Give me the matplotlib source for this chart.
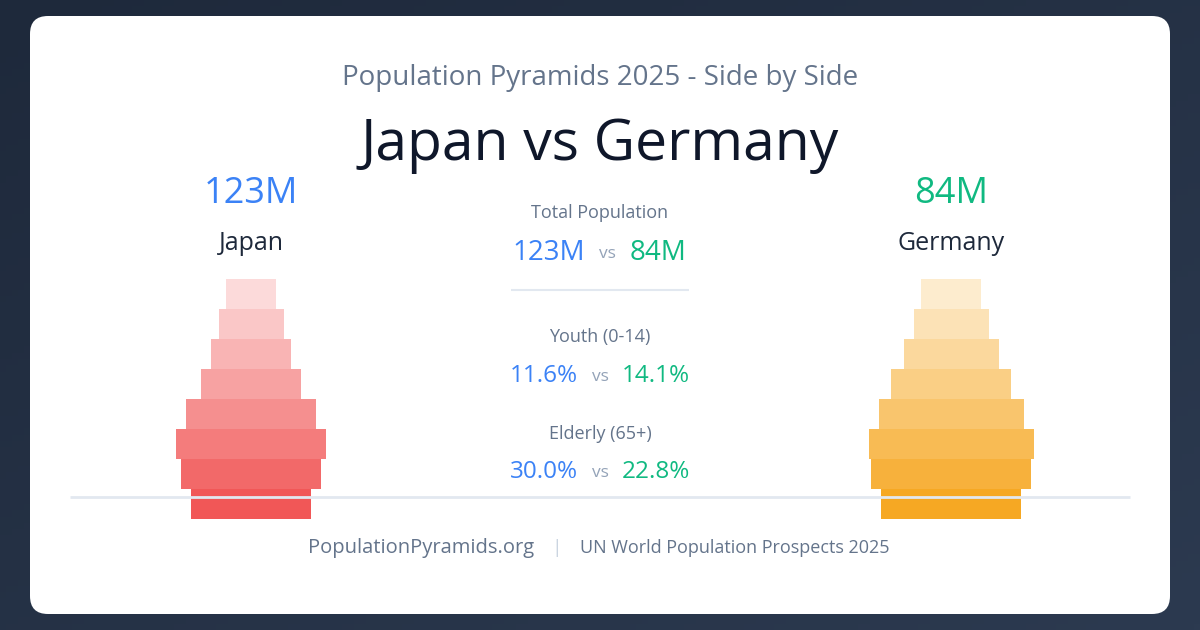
import numpy as np
import matplotlib
matplotlib.use("Agg")
import matplotlib.pyplot as plt
from matplotlib.patches import FancyBboxPatch
from matplotlib.colors import to_rgb

# ---- data -------------------------------------------------------------
age_groups = ["0-9", "10-19", "20-29", "30-39", "40-49", "50-59", "60-69", "70+"]
japan_widths = [120, 140, 150, 130, 100, 80, 65, 50]      # bottom -> top
germany_widths = [140, 160, 165, 145, 120, 95, 75, 60]

countries = ["Japan", "Germany"]
total_pop = ["123M", "84M"]
youth_share = ["11.6%", "14.1%"]
elderly_share = ["30.0%", "22.8%"]

title_top = "Population Pyramids 2025 - Side by Side"
title_main = "Japan vs Germany"
footer_left = "PopulationPyramids.org"
footer_right = "UN World Population Prospects 2025"

BLUE = "#3b82f6"
GREEN = "#10b981"
SLATE = "#64748b"
DARK = "#0f172a"
LINE = "#e2e8f0"
JAPAN_BASE = "#ef4444"
GERMANY_BASE = "#f59e0b"

plt.rcParams["font.family"] = ["Open Sans", "DejaVu Sans"]

W, H = 1200, 630
fig = plt.figure(figsize=(W / 100, H / 100), dpi=100)


def blend(color, alpha):
    c = np.array(to_rgb(color))
    return tuple(1 - alpha * (1 - c))


# background gradient + card
bg = fig.add_axes([0, 0, 1, 1], zorder=0)
bg.set_xlim(0, W)
bg.set_ylim(H, 0)
bg.axis("off")
gx = np.linspace(0, 1, 200)
grad = np.add.outer(np.linspace(0, 0.5, 100), gx * 0.5)
c1, c2 = np.array(to_rgb("#1e293b")), np.array(to_rgb("#2c3a50"))
img = c1[None, None, :] + grad[:, :, None] * (c2 - c1)[None, None, :]
bg.imshow(img, extent=[0, W, H, 0], aspect="auto")
card = FancyBboxPatch((30 + 18, 16 + 18), 1140 - 36, 598 - 36,
                      boxstyle="round,pad=18", fc="white", ec="none")
bg.add_patch(card)


def pyramid(center_px, widths, base):
    left = (center_px - 100) / W
    bottom = 1 - 519 / H
    ax = fig.add_axes([left, bottom, 200 / W, 240 / H], zorder=1)
    ax.set_xlim(-100, 100)
    ax.set_ylim(-0.5, len(widths) - 0.5)
    ax.axis("off")
    n = len(widths)
    y = np.arange(n)
    alphas = [0.9 - 0.1 * i for i in range(n)]
    colors = [blend(base, a) for a in alphas]
    w = np.array(widths)
    ax.barh(y, w, left=-w / 2, height=1.0, color=colors, linewidth=0)
    return ax


pyramid(251, japan_widths, JAPAN_BASE)
pyramid(951, germany_widths, GERMANY_BASE)

# overlay for text and rules
ov = fig.add_axes([0, 0, 1, 1], zorder=3)
ov.set_xlim(0, W)
ov.set_ylim(H, 0)
ov.axis("off")
ov.patch.set_alpha(0)

ov.plot([70, 1130], [497, 497], color=LINE, lw=2, solid_capstyle="butt")
ov.plot([511, 689], [290, 290], color=LINE, lw=1.5, solid_capstyle="butt")

ov.text(600, 78, title_top, ha="center", va="center", fontsize=20, color=SLATE)
ov.text(600, 146, title_main, ha="center", va="center", fontsize=41, color=DARK)

for cx, name, pop, col in [(251, countries[0], total_pop[0], BLUE),
                           (951, countries[1], total_pop[1], GREEN)]:
    ov.text(cx, 194, pop, ha="center", va="center", fontsize=26, color=col)
    ov.text(cx, 243, name, ha="center", va="center", fontsize=18, color="#1e293b")


def compare_row(y_label, y_val, label, left, right, size, lx, vx, rx):
    ov.text(600, y_label, label, ha="center", va="center", fontsize=13, color=SLATE)
    ov.text(lx, y_val, left, ha="right", va="center", fontsize=size, color=BLUE)
    ov.text(vx, y_val + 1, "vs", ha="center", va="center", fontsize=12.5, color="#94a3b8")
    ov.text(rx, y_val, right, ha="left", va="center", fontsize=size, color=GREEN)


compare_row(213, 253, "Total Population", total_pop[0], total_pop[1], 20, 585, 607, 630)
compare_row(337, 376, "Youth (0-14)", youth_share[0], youth_share[1], 17.5, 578, 600, 622)
compare_row(434, 472, "Elderly (65+)", elderly_share[0], elderly_share[1], 17.5, 578, 600, 622)

ov.text(534, 548, footer_left, ha="right", va="center", fontsize=14.5, color=SLATE)
ov.text(557, 548, "|", ha="center", va="center", fontsize=14, color="#cbd5e1")
ov.text(580, 548, footer_right, ha="left", va="center", fontsize=13, color=SLATE)

fig.savefig("out.png", dpi=100)
